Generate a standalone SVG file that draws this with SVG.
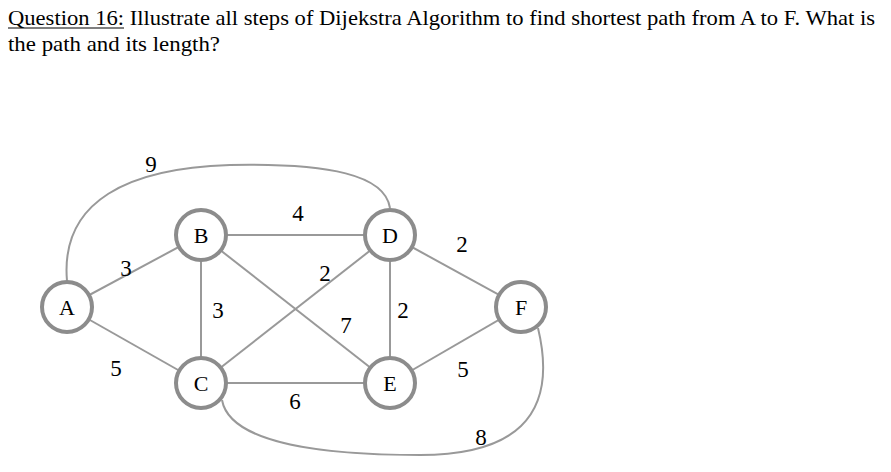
<svg xmlns="http://www.w3.org/2000/svg" width="891" height="472" viewBox="0 0 891 472">
<style>
.t{font-family:"Liberation Serif",serif;fill:#000}
.n circle{fill:#fff;stroke:#8c8c8c;stroke-width:4}
.n text{font-family:"Liberation Serif",serif;font-size:22px;text-anchor:middle}
#edges path,#edges line{stroke:#999;stroke-width:2;fill:none}
.w{font-family:"Liberation Serif",serif;font-size:23px;text-anchor:middle}
</style>
<rect width="891" height="472" fill="#fff"/>
<text class="t" x="8" y="25" font-size="22" textLength="867" lengthAdjust="spacingAndGlyphs">Question 16: Illustrate all steps of Dijekstra Algorithm to find shortest path from A to F. What is</text>
<line x1="8" y1="28" x2="124" y2="28" stroke="#000" stroke-width="1.2"/>
<text class="t" x="8" y="51" font-size="22" textLength="212" lengthAdjust="spacingAndGlyphs">the path and its length?</text>
<g id="edges">
<path d="M67,281 C60,200 130,168 230,165 C330,163 385,175 390,208"/>
<line x1="67" y1="307" x2="201" y2="235"/>
<line x1="67" y1="307" x2="201" y2="383"/>
<line x1="201" y1="235" x2="390" y2="235"/>
<line x1="201" y1="235" x2="201" y2="383"/>
<line x1="201" y1="235" x2="390" y2="383"/>
<line x1="201" y1="383" x2="390" y2="235"/>
<line x1="201" y1="383" x2="390" y2="383"/>
<line x1="390" y1="235" x2="390" y2="383"/>
<line x1="390" y1="235" x2="521" y2="307"/>
<line x1="390" y1="383" x2="521" y2="307"/>
<path d="M222,400 C230,445 330,455 420,455 C510,455 560,420 538,328"/>
</g>
<g id="A" class="n"><circle cx="67" cy="307" r="25"/><text x="67" y="315">A</text></g>
<g id="B" class="n"><circle cx="201" cy="235" r="25"/><text x="201" y="243">B</text></g>
<g id="C" class="n"><circle cx="201" cy="383" r="25"/><text x="201" y="391">C</text></g>
<g id="D" class="n"><circle cx="390" cy="235" r="25"/><text x="390" y="243">D</text></g>
<g id="E" class="n"><circle cx="390" cy="383" r="25"/><text x="390" y="391">E</text></g>
<g id="F" class="n"><circle cx="521" cy="307" r="25"/><text x="521" y="315">F</text></g>
<g id="labels">
<text class="w" x="151" y="172">9</text>
<text class="w" x="126" y="276">3</text>
<text class="w" x="116" y="376">5</text>
<text class="w" x="218" y="318">3</text>
<text class="w" x="298" y="221">4</text>
<text class="w" x="325" y="281">2</text>
<text class="w" x="346" y="333">7</text>
<text class="w" x="403" y="318">2</text>
<text class="w" x="462" y="252">2</text>
<text class="w" x="463" y="377">5</text>
<text class="w" x="295" y="409">6</text>
<text class="w" x="481" y="445">8</text>
</g>
</svg>
